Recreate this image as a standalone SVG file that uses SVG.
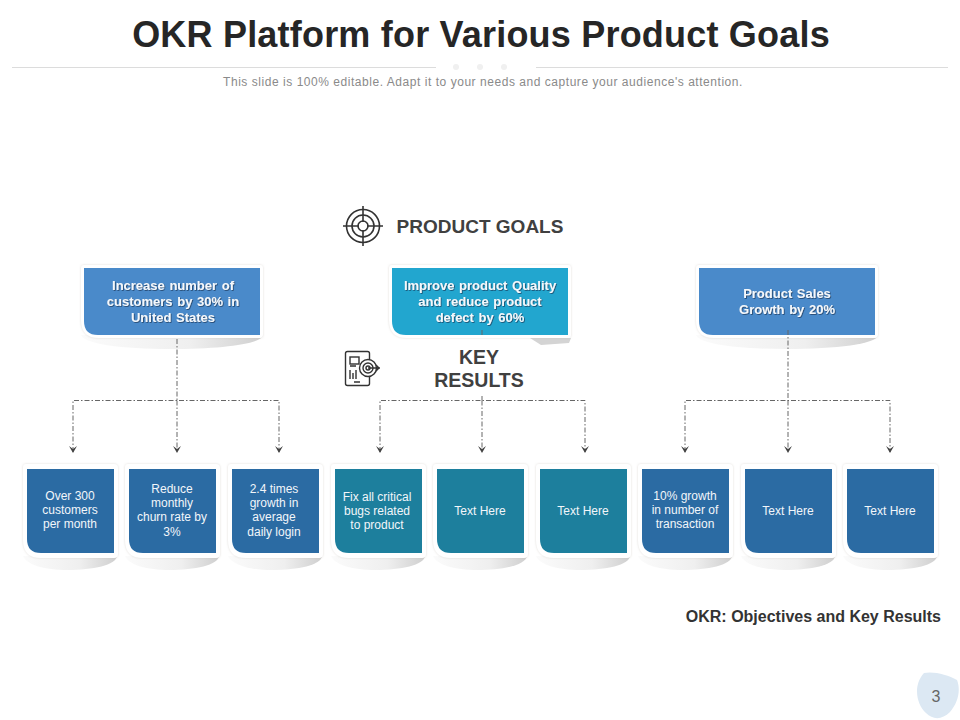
<svg xmlns="http://www.w3.org/2000/svg" width="960" height="720" viewBox="0 0 960 720">
<style>
text{font-family:"Liberation Sans",Arial,sans-serif;text-anchor:middle}
.title{font-size:36px;font-weight:700;fill:#262626;letter-spacing:.2px}
.sub{font-size:12px;fill:#8a8a8a;letter-spacing:.54px}
.head{font-size:19px;font-weight:700;fill:#404040}
.top{font-size:13px;font-weight:700;fill:#f4f8fc;word-spacing:1px;filter:url(#ts)}
.card{font-size:12px;fill:#f2f6fa}
.note{font-size:16px;font-weight:700;fill:#333}
.conn{fill:none;stroke:#666;stroke-width:1;stroke-dasharray:5 2 1.5 2}
.ic{fill:none;stroke:#333;stroke-width:1.6}
.frame{fill:#fff;filter:url(#fs)}
.rule{stroke:#dcdcdc;stroke-width:1}
</style>
<defs>
<filter id="ts" x="-10%" y="-20%" width="120%" height="140%"><feDropShadow dx="0.8" dy="0.8" stdDeviation="0.5" flood-color="#1a3350" flood-opacity=".8"/></filter>
<filter id="fs" x="-10%" y="-10%" width="120%" height="120%"><feDropShadow dx="0" dy="0" stdDeviation="1.2" flood-color="#b9b2a8" flood-opacity=".45"/></filter>
<linearGradient id="sh" x1="0" y1="0" x2="1" y2="0"><stop offset="0" stop-color="#fbfbfb"/><stop offset=".6" stop-color="#efefef"/><stop offset="1" stop-color="#cfcfcf"/></linearGradient>
<path id="cardsh" d="M0 92 H94 C93 101 70 106 44 106 C22 106 4 101 0 92Z" fill="url(#sh)"/>
<path id="cardfr" d="M3 0 H91 Q95 0 95 4 V90 Q95 94 91 94 H18 Q0 94 0 76 V3 Q0 0 3 0Z"/>
<path id="cardin" d="M0 0 H87 V84 H14 Q0 84 0 70Z"/>
<path id="topsh" d="M0 70 H182 C181 79 140 84 90 84 C40 84 4 79 0 70Z" fill="url(#sh)"/>
<path id="topfr" d="M3 0 H179 Q182 0 182 3 V70 Q182 73 179 73 H18 Q0 73 0 55 V3 Q0 0 3 0Z"/>
<path id="topin" d="M0 0 H176 V67 H14 Q0 67 0 53Z"/>
</defs>
<rect width="960" height="720" fill="#fff"/>
<g id="header">
<text class="title" x="481" y="47">OKR Platform for Various Product Goals</text>
<line class="rule" x1="12" y1="67.5" x2="436" y2="67.5"/>
<line class="rule" x1="536" y1="67.5" x2="948" y2="67.5"/>
<g fill="#f0f0f0"><circle cx="456" cy="67" r="3"/><circle cx="480" cy="67" r="3"/><circle cx="504" cy="67" r="3"/></g>
<text class="sub" x="483" y="86">This slide is 100% editable. Adapt it to your needs and capture your audience's attention.</text>
</g>
<g id="product-goals">
<g class="ic"><circle cx="363" cy="226" r="16.5"/><circle cx="363" cy="226" r="11"/><circle cx="363" cy="226" r="5"/><path d="M363 206V222M363 230V246M343 226H359M367 226H383"/></g>
<text class="head" x="480" y="233">PRODUCT GOALS</text>
</g>
<g id="key-results">
<g class="ic" style="stroke-width:1.4"><rect x="345.500" y="351.500" width="24" height="34" rx="2"/><rect x="350" y="357" width="9" height="7"/><path d="M350 366h6M350 370v9M353 373v6M356 370v9M354 382h6"/><circle cx="368" cy="368" r="8.500" fill="#fff"/><circle cx="368" cy="368" r="5"/><circle cx="368" cy="368" r="2"/><path d="M368 368H380M376 365l3 3-3 3"/></g>
<text class="head" x="479" y="364" style="font-size:19.5px">KEY</text>
<text class="head" x="479" y="387" style="font-size:19.5px">RESULTS</text>
</g>
<g id="goal-1"><use href="#topsh" x="81" y="265"/><use href="#topfr" x="81" y="265" class="frame"/><use href="#topin" x="84" y="268" fill="#4a8aca"/>
<text class="top" x="173" y="290">Increase number of</text><text class="top" x="173" y="306">customers  by 30%  in</text><text class="top" x="173" y="322">United  States</text></g>
<g id="goal-2"><path d="M530 338H571L569 343 541 345Z" fill="#d4d4d4"/><use href="#topfr" x="389" y="265" class="frame"/><use href="#topin" x="392" y="268" fill="#22a6cf"/>
<text class="top" x="480" y="290">Improve product  Quality</text><text class="top" x="480" y="306">and reduce product</text><text class="top" x="480" y="322">defect by 60%</text></g>
<g id="goal-3"><use href="#topsh" x="696" y="265"/><use href="#topfr" x="696" y="265" class="frame"/><use href="#topin" x="699" y="268" fill="#4a8aca"/>
<text class="top" x="787" y="298">Product Sales</text><text class="top" x="787" y="314">Growth by 20%</text></g>
<g id="kr-1"><use href="#cardsh" x="23" y="464"/><use href="#cardfr" x="23" y="464" class="frame"/><use href="#cardin" x="27" y="469" fill="#2b6ba3"/><text class="card" x="70" y="500">Over 300</text><text class="card" x="70" y="514">customers</text><text class="card" x="70" y="528">per month</text></g>
<g id="kr-2"><use href="#cardsh" x="125" y="464"/><use href="#cardfr" x="125" y="464" class="frame"/><use href="#cardin" x="129" y="469" fill="#2b6ba3"/><text class="card" x="172" y="493">Reduce</text><text class="card" x="172" y="507">monthly</text><text class="card" x="172" y="521">churn rate by</text><text class="card" x="172" y="536">3%</text></g>
<g id="kr-3"><use href="#cardsh" x="228" y="464"/><use href="#cardfr" x="228" y="464" class="frame"/><use href="#cardin" x="232" y="469" fill="#2b6ba3"/><text class="card" x="274" y="493">2.4 times</text><text class="card" x="274" y="507">growth in</text><text class="card" x="274" y="521">average</text><text class="card" x="274" y="536">daily login</text></g>
<g id="kr-4"><use href="#cardsh" x="331" y="464"/><use href="#cardfr" x="331" y="464" class="frame"/><use href="#cardin" x="335" y="469" fill="#1d7f9d"/><text class="card" x="377" y="501">Fix all critical</text><text class="card" x="377" y="515">bugs related</text><text class="card" x="377" y="529">to product</text></g>
<g id="kr-5"><use href="#cardsh" x="433" y="464"/><use href="#cardfr" x="433" y="464" class="frame"/><use href="#cardin" x="437" y="469" fill="#1d7f9d"/><text class="card" x="480" y="515">Text Here</text></g>
<g id="kr-6"><use href="#cardsh" x="536" y="464"/><use href="#cardfr" x="536" y="464" class="frame"/><use href="#cardin" x="540" y="469" fill="#1d7f9d"/><text class="card" x="583" y="515">Text Here</text></g>
<g id="kr-7"><use href="#cardsh" x="638" y="464"/><use href="#cardfr" x="638" y="464" class="frame"/><use href="#cardin" x="642" y="469" fill="#2b6ba3"/><text class="card" x="685" y="500">10% growth</text><text class="card" x="685" y="514">in number of</text><text class="card" x="685" y="528">transaction</text></g>
<g id="kr-8"><use href="#cardsh" x="741" y="464"/><use href="#cardfr" x="741" y="464" class="frame"/><use href="#cardin" x="745" y="469" fill="#2b6ba3"/><text class="card" x="788" y="515">Text Here</text></g>
<g id="kr-9"><use href="#cardsh" x="843" y="464"/><use href="#cardfr" x="843" y="464" class="frame"/><use href="#cardin" x="847" y="469" fill="#2b6ba3"/><text class="card" x="890" y="515">Text Here</text></g>
<g id="connectors">
<path class="conn" d="M177 339V400.500M73 452V400.500H279V452"/><path class="conn" d="M177 400.500V452"/>
<path class="conn" d="M482 330V337M482 396V400.500M380 452V400.500H585V452"/><path class="conn" d="M482 400.500V452"/>
<path class="conn" d="M788 330V400.500M685 452V400.500H890V452"/><path class="conn" d="M788 400.500V452"/>
<g fill="#444"><path d="M69 446L73 449 77 446 73 453Z"/><path d="M173 446L177 449 181 446 177 453Z"/><path d="M275 446L279 449 283 446 279 453Z"/><path d="M376 446L380 449 384 446 380 453Z"/><path d="M478 446L482 449 486 446 482 453Z"/><path d="M581 446L585 449 589 446 585 453Z"/><path d="M681 446L685 449 689 446 685 453Z"/><path d="M784 446L788 449 792 446 788 453Z"/><path d="M886 446L890 449 894 446 890 453Z"/></g>
</g>
<g id="footer">
<text class="note" x="941" y="622" style="text-anchor:end">OKR: Objectives and Key Results</text>
<path d="M924 673C934 671 948 675 957 680 961 690 958 703 950 712 942 720 933 720 926 713 916 704 913 685 924 673Z" fill="#dce8f3"/>
<text x="936" y="702" style="font-size:16px;fill:#666">3</text>
</g>
</svg>
